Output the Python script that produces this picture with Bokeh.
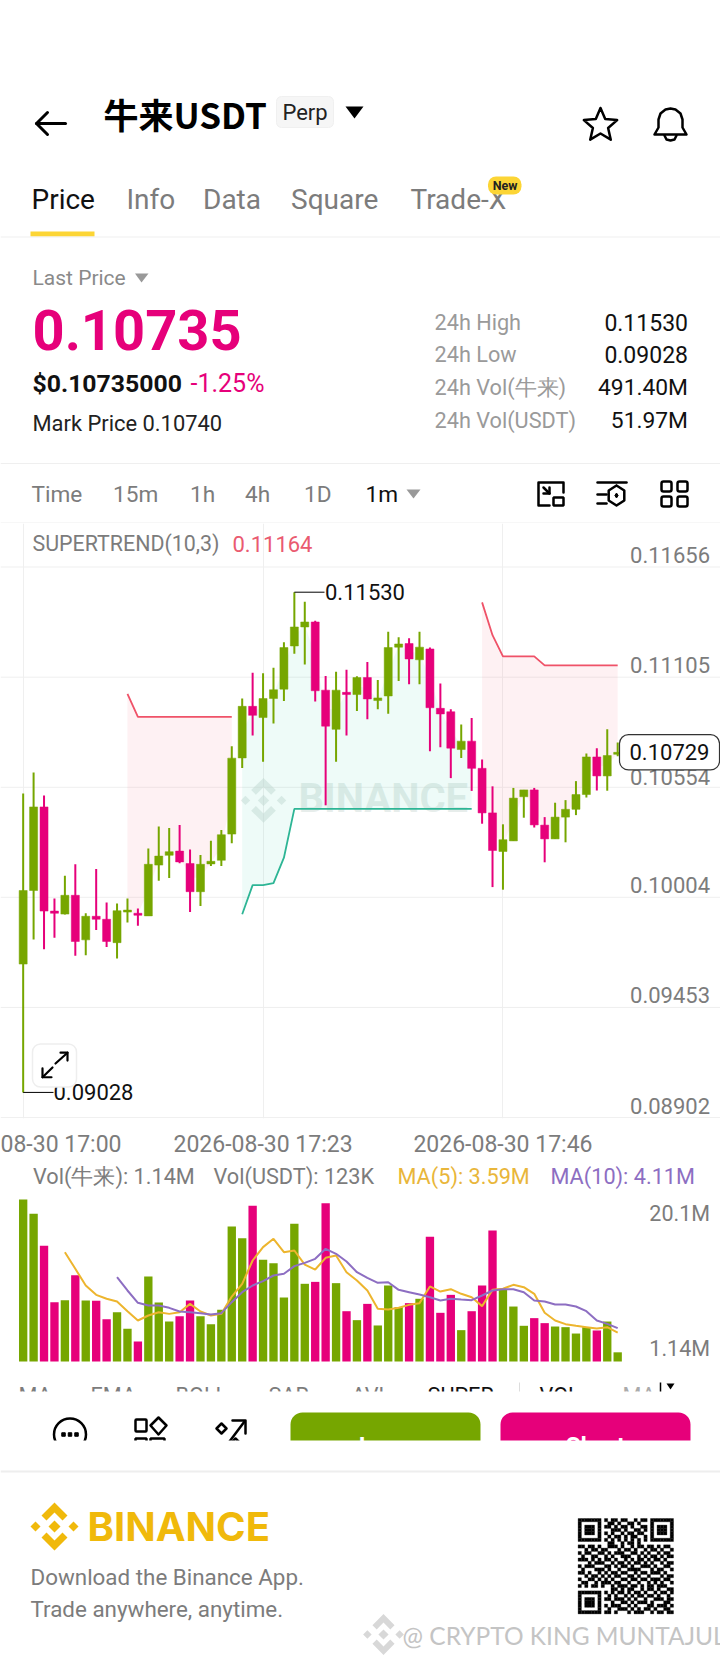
import numpy as np
from bokeh.plotting import figure
from bokeh.layouts import column
from bokeh.models import Range1d, FixedTicker, ColumnDataSource, AllLabels
from bokeh.core.properties import value
from bokeh.embed import file_html
from bokeh.resources import INLINE

# ---------- data (prices) ----------
open_ = [.09670,.10038,.10456,.09935,.09920,.10014,.09791,.09909,.09894,.09777,.09930,.09924,.09911,.10165,.10214,.10235,.10173,.10032,.10171,.10189,
         .10320,.10701,.10959,.10903,.10998,.11045,.11261,.11356,.11381,.11040,.10844,.11029,.11018,.11103,.10988,.11011,.11255,.11273,.11192,.11246,
         .10949,.10932,.10743,.10785,.10649,.10426,.10233,.10286,.10507,.10541,.10365,.10296,.10405,.10444,.10518,.10706,.10611,.10719]
high  = [.10523,.10628,.10513,.09998,.10112,.10169,.09924,.10145,.09978,.09973,.09998,.09948,.10248,.10358,.10351,.10366,.10243,.10215,.10287,.10341,
         .10759,.10998,.11127,.11124,.11152,.11279,.11530,.11482,.11387,.11111,.11132,.11142,.11109,.11181,.11091,.11332,.11304,.11299,.11332,.11253,
         .11073,.10945,.10868,.10901,.10693,.10559,.10369,.10551,.10541,.10551,.10405,.10477,.10490,.10585,.10723,.10749,.10844,.10778]
low   = [.09028,.09793,.09744,.09801,.09918,.09711,.09714,.09840,.09755,.09698,.09878,.09862,.09911,.10087,.10101,.10174,.09930,.09960,.10161,.10161,
         .10274,.10651,.10813,.10682,.10873,.10986,.11222,.11168,.10983,.10464,.10682,.10813,.10936,.10895,.10945,.10922,.11086,.11070,.11070,.10734,
         .10755,.10600,.10701,.10536,.10372,.10055,.10042,.10286,.10402,.10353,.10179,.10296,.10279,.10415,.10503,.10538,.10537,.10710]
close = [.10038,.10456,.09935,.09924,.10014,.09783,.09909,.09894,.09783,.09937,.09940,.09914,.10169,.10210,.10232,.10181,.10032,.10169,.10184,.10317,
         .10700,.10959,.10914,.10998,.11042,.11253,.11356,.11381,.11037,.10860,.11040,.11018,.11103,.10996,.11001,.11253,.11271,.11196,.11255,.10952,
         .10921,.10750,.10785,.10649,.10426,.10238,.10292,.10500,.10541,.10366,.10296,.10405,.10444,.10518,.10706,.10611,.10713,.10729]
st_red1_idx = list(range(10, 21))
st_red1 = [.11021] + [.10906] * 10
st_grn_idx = list(range(21, 44))
st_grn = [.09919,.10065,.10065,.10075,.10202] + [.10446] * 18
st_red2_idx = list(range(44, 58))
st_red2 = [.11479,.11315,.11209,.11209,.11209,.11209] + [.11164] * 8
volume = [20.10,18.32,14.35,7.36,7.61,10.71,7.57,7.53,5.25,6.12,4.05,2.48,10.55,7.32,4.96,5.62,7.57,5.62,4.63,6.41,
          16.75,15.30,19.31,12.61,12.20,7.94,17.08,9.64,9.88,19.64,9.72,6.24,5.13,7.15,4.47,9.43,6.74,7.24,7.78,15.47,
          6.04,8.27,3.89,6.24,9.43,16.25,8.93,6.82,4.43,5.38,4.76,4.34,4.26,3.47,4.26,3.85,4.96,1.14]
ma5_start = 4
ma5 = [13.56,11.50,9.43,8.27,7.78,7.44,6.24,5.09,5.71,6.12,5.91,6.12,7.15,6.20,5.71,5.91,8.06,9.64,12.53,14.19,15.22,13.56,13.77,12.03,11.41,12.86,13.15,
       11.08,10.05,8.81,6.53,6.45,6.66,7.03,7.24,9.31,8.68,8.97,8.40,7.98,6.87,8.89,9.02,9.51,9.22,8.40,6.04,5.09,4.63,4.43,4.26,4.09,4.26,3.59]
ma10_start = 9
ma10 = [10.46,8.81,7.28,6.95,6.95,6.66,6.20,6.12,6.00,5.83,6.00,7.36,8.60,9.43,9.97,10.67,10.88,11.83,12.24,12.74,13.98,13.36,12.41,11.08,10.38,9.76,9.84,
        8.89,8.60,8.31,7.98,7.57,7.78,7.69,7.61,8.19,8.81,8.97,8.97,8.60,7.57,7.44,7.07,7.07,6.82,6.24,5.09,4.67,4.14]
price_ticks = [.11656,.11105,.10554,.10004,.09453,.08902]
price_tick_labels = ["0.11656","0.11105","0.10554","0.10004","0.09453","0.08902"]
time_ticks = [0, 23, 46]
time_labels = ["08-30 17:00", "2026-08-30 17:23", "2026-08-30 17:46"]

GREEN, PINK = "#76A600", "#E6007A"
GRID = "#EFEFEF"
GRAY = "#7C7C7C"
F = "Roboto"

def bare(**kw):
    p = figure(output_backend="svg", toolbar_location=None, **kw)
    p.min_border_left = p.min_border_right = p.min_border_top = p.min_border_bottom = 0
    p.outline_line_color = None
    p.background_fill_color = "white"
    p.border_fill_color = "white"
    return p

def T(p, x, y, s, size, color, bold=False, align="left", font=F, alpha=1.0, yo=0):
    p.text(x=[x], y=[y], text=[s], text_font=value(font), text_font_size=f"{size}px", text_color=color,
           text_font_style="bold" if bold else "normal", text_align=align, text_baseline="middle",
           text_alpha=alpha, y_offset=yo)

def logo(p, cx, cy, s, color, alpha=1.0, fx=lambda v: v, fy=lambda v: v):
    shapes = [[(0,-24),(13,-11),(8,-6),(0,-14),(-8,-6),(-13,-11)],
              [(0,24),(13,11),(8,6),(0,14),(-8,6),(-13,11)],
              [(0,-6),(6,0),(0,6),(-6,0)],
              [(-19,-5),(-14,0),(-19,5),(-24,0)],
              [(19,-5),(24,0),(19,5),(14,0)]]
    xs = [[fx(cx + a * s) for a, b in sh] for sh in shapes]
    ys = [[fy(cy + b * s) for a, b in sh] for sh in shapes]
    p.patches(xs, ys, fill_color=color, fill_alpha=alpha, line_color=None)

def L(p, pts, color="black", w=2.5):
    p.line([a for a, b in pts], [b for a, b in pts], line_color=color, line_width=w,
           line_cap="round", line_join="round")

# ---------- header ----------
h = bare(width=720, height=523, x_range=Range1d(0, 720), y_range=Range1d(523, 0), x_axis_type=None, y_axis_type=None)
h.grid.visible = False
L(h, [(47,112),(36,123),(47,134)], w=3); L(h, [(36,123),(65,123)], w=3)
T(h, 103, 113, "牛来USDT", 35, "black", bold=True, font="Noto Sans CJK SC")
h.quad(left=[276], right=[333], top=[96], bottom=[127], fill_color="#F6F6F6", line_color="#F0F0F0", border_radius=5)
T(h, 304.5, 112, "Perp", 22, "#222222", align="center")
h.patch([345,363,354], [106,106,118], fill_color="black", line_color=None)
ang = np.arange(11) * np.pi / 5 - np.pi / 2
rad = np.where(np.arange(11) % 2 == 0, 17.5, 8)
L(h, list(zip(600 + rad * np.cos(ang), 125 + rad * np.sin(ang))))
L(h, [(654,134),(658,127),(658,119),(660,113),(665,109),(670,108),(675,109),(680,113),(682,119),(682,127),(686,134),(654,134)])
L(h, [(664,135),(666,139),(670,140),(674,139),(676,135)])
T(h, 31, 199, "Price", 28, "#111111")
for x, s in [(126,"Info"),(202.5,"Data"),(290.5,"Square"),(410,"Trade-X")]:
    T(h, x, 199, s, 28, GRAY)
h.quad(left=[30], right=[94], top=[231], bottom=[236], fill_color="#FCD535", line_color=None)
h.quad(left=[487.5], right=[521], top=[176], bottom=[194], fill_color="#FCD535", line_color=None, border_radius=8)
T(h, 504.5, 185, "New", 12.5, "#222222", bold=True, align="center")
h.segment([0],[236.5],[720],[236.5], line_color=GRID, line_width=1)
T(h, 32, 277, "Last Price", 21, "#8A8A8A")
h.patch([134.5,148,141], [273,273,282], fill_color="#999999", line_color=None)
T(h, 32, 329, "0.10735", 56, PINK, bold=True)
T(h, 32, 383, "$0.10735000", 24.8, "#111111", bold=True)
T(h, 190, 383, "-1.25%", 25, PINK)
T(h, 32, 423, "Mark Price 0.10740", 21.9, "#222222")
for y, a, b, s in [(322,"24h High","0.11530",23),(354,"24h Low","0.09028",23),(387,"24h Vol(牛来)","491.40M",22.8),(420,"24h Vol(USDT)","51.97M",22.8)]:
    T(h, 434, y, a, 21.7, "#9A9A9A")
    T(h, 687.5, y, b, s, "#111111", align="right")
h.segment([0],[463],[720],[463], line_color=GRID, line_width=1)
for x, s in [(31,"Time"),(112.5,"15m"),(189.5,"1h"),(244.5,"4h"),(303.5,"1D")]:
    T(h, x, 494, s, 22.6, GRAY)
T(h, 365, 494, "1m", 22.6, "#111111")
h.patch([406,420,413], [489,489,498], fill_color="#999999", line_color=None)
L(h, [(563,492),(563,482),(538,482),(538,505),(549,505)])
h.quad(left=[553], right=[563], top=[497], bottom=[505], fill_color=None, line_color="black", line_width=2.5)
L(h, [(543,487),(549,493)]); L(h, [(549,487),(549,493),(543,493)])
L(h, [(597,482),(626,482)]); L(h, [(597,494),(606,494)]); L(h, [(597,503),(606,503)])
hexa = np.arange(7) * np.pi / 3 - np.pi / 2
L(h, list(zip(616 + 9 * np.cos(hexa), 495 + 10 * np.sin(hexa))))
h.scatter([616], [495], size=5, marker="diamond", fill_color="black", line_color="black")
h.quad(left=[661,677,661,677], right=[671,687,671,687], top=[481,481,496,496], bottom=[491,491,506,506],
       fill_color=None, line_color="black", line_width=2.5, border_radius=2)
h.segment([0],[522.5],[720],[522.5], line_color=GRID, line_width=1)

# ---------- price panel ----------
X = lambda px: (px - 22.67) / 10.43
Y = lambda py: 0.11656 - (py - 567.3) / 20363
n = len(open_)
idx = np.arange(n)
op, hi, lo, cl = map(np.array, (open_, high, low, close))
col = [GREEN if c >= o else PINK for o, c in zip(op, cl)]
mid = (op + cl) / 2
src = ColumnDataSource(dict(x=idx, o=op, h=hi, l=lo, c=cl, top=np.maximum(op, cl), bot=np.minimum(op, cl), col=col))

p = bare(width=720, height=637, x_range=Range1d(X(0), X(720)), y_range=Range1d(Y(1129), Y(523)), y_axis_type=None)
p.min_border_bottom = 31
p.xgrid.ticker = FixedTicker(ticks=time_ticks)
p.xgrid.grid_line_color = GRID
p.ygrid.grid_line_color = None
p.xaxis.ticker = FixedTicker(ticks=time_ticks)
p.xaxis.major_label_overrides = dict(zip(time_ticks, time_labels))
p.xaxis.major_label_policy = AllLabels()
p.xaxis.major_label_text_font = F
p.xaxis.major_label_text_font_size = "23px"
p.xaxis.major_label_text_color = GRAY
p.xaxis.major_label_standoff = 6
p.xaxis.axis_line_color = None
p.xaxis.major_tick_line_color = None
p.xaxis.minor_tick_line_color = None
p.segment(X(0), price_ticks, X(720), price_ticks, line_color=GRID, line_width=1)

logo(p, 263, 805, 0.95, "#C9D8D3", 0.45, X, Y)
T(p, X(298), Y(803), "BINANCE", 40, "#C9D8D3", bold=True, alpha=0.45)

p.varea(st_red1_idx, st_red1, mid[st_red1_idx], fill_color="#F6465D", fill_alpha=0.075)
p.varea(st_grn_idx, st_grn, mid[st_grn_idx], fill_color="#0ECB9A", fill_alpha=0.07)
p.varea(st_red2_idx, st_red2, mid[st_red2_idx], fill_color="#F6465D", fill_alpha=0.075)

for lbl, val, yo in zip(price_tick_labels, price_ticks, [-12, -12, -10, -12, -12, -12]):
    T(p, X(709.5), val, lbl, 22, GRAY, align="right", yo=yo)

p.line(st_red1_idx, st_red1, line_color="#EF5268", line_width=1.8)
p.line(st_grn_idx, st_grn, line_color="#2DB595", line_width=1.8)
p.line(st_red2_idx, st_red2, line_color="#EF5268", line_width=1.8)

p.segment("x", "h", "x", "l", source=src, line_color="col", line_width=2)
p.vbar("x", width=0.77, top="top", bottom="bot", source=src, fill_color="col", line_color="col", line_width=0.5)

p.segment([26], [high[26]], [X(324)], [high[26]], line_color="black", line_width=1)
T(p, X(324.5), high[26], "0.11530", 22, "#111111")
p.segment([0], [low[0]], [X(53)], [low[0]], line_color="black", line_width=1)
T(p, X(53), low[0], "0.09028", 22, "#111111")

T(p, X(32), Y(543.5), "SUPERTREND(10,3)", 21.4, GRAY)
T(p, X(232), Y(543.5), "0.11164", 22, "#EA5A70")

p.quad(left=[X(619)], right=[X(719)], top=[Y(738)], bottom=[Y(774)], fill_color="white", line_color="#333333",
       line_width=1.2, border_radius=9)
T(p, X(629), close[-1], "0.10729", 22, "#111111")

p.quad(left=[X(32)], right=[X(76)], top=[Y(1053)], bottom=[Y(1097)], fill_color="white", line_color="#EEEEEE",
       line_width=1.5, border_radius=8)
for pts in ([(55,1073),(67,1062)], [(60,1062),(67,1062),(67,1070)], [(52,1077),(42,1087)], [(42,1078),(42,1087),(51,1087)]):
    L(p, [(X(a), Y(b)) for a, b in pts], w=2.2)

# ---------- volume panel ----------
V = lambda py: (1361 - py) / 8.06
v = bare(width=720, height=202, x_range=Range1d(X(0), X(720)), y_range=Range1d(V(1362), V(1160)), x_axis_type=None, y_axis_type=None)
v.xgrid.ticker = FixedTicker(ticks=time_ticks)
v.xgrid.grid_line_color = GRID
v.ygrid.ticker = FixedTicker(ticks=[0, V(1160.5)])
v.ygrid.grid_line_color = GRID
v.vbar(idx, width=0.8, top=volume, bottom=0, fill_color=col, line_color=None)
v.line(np.arange(ma5_start, ma5_start + len(ma5)), ma5, line_color="#EDB52E", line_width=2)
v.line(np.arange(ma10_start, ma10_start + len(ma10)), ma10, line_color="#8D6EC2", line_width=2)
T(v, X(32.5), V(1176), "Vol(牛来): 1.14M", 21.7, GRAY)
T(v, X(213), V(1176), "Vol(USDT): 123K", 21.7, GRAY)
T(v, X(397), V(1176), "MA(5): 3.59M", 21.7, "#E9B63A")
T(v, X(550), V(1176), "MA(10): 4.11M", 21.7, "#8D6EC2")
T(v, X(709.5), V(1213), "20.1M", 21.5, GRAY, align="right")
T(v, X(709.5), V(1347.5), "1.14M", 21.5, GRAY, align="right")

# ---------- footer ----------
f = bare(width=720, height=298, x_range=Range1d(0, 720), y_range=Range1d(1660, 1362), x_axis_type=None, y_axis_type=None)
f.grid.visible = False
for x, s, c in [(18,"MA",GRAY),(90,"EMA",GRAY),(175,"BOLL",GRAY),(268,"SAR",GRAY),(351,"AVL",GRAY),(427,"SUPER","#111111"),
                (539,"VOL","#111111"),(622,"MA","#AAAAAA")]:
    T(f, x, 1394.7, s, 21.7, c)
f.segment([519],[1382],[519],[1392], line_color="#DDDDDD", line_width=1)
f.segment([660],[1382],[660],[1392], line_color="black", line_width=1.5)
f.patch([666,674,670],[1383,1383,1389], fill_color="black", line_color=None)
f.quad(left=[0], right=[720], top=[1391], bottom=[1412], fill_color="white", line_color=None)
f.circle([69.5],[1434], radius=16, fill_color=None, line_color="black", line_width=2.5)
f.scatter([63,69.5,76],[1434,1434,1434], size=3.5, marker="square", fill_color="black", line_color="black")
f.quad(left=[135], right=[146], top=[1419], bottom=[1431], fill_color=None, line_color="black", line_width=2.5, border_radius=1)
L(f, [(158,1417),(166,1425),(158,1434),(150,1425),(158,1417)])
f.quad(left=[135,150], right=[146,164], top=[1438,1438], bottom=[1450,1450], fill_color=None, line_color="black", line_width=2.5)
L(f, [(221,1423),(226,1428),(221,1433),(216,1428),(221,1423)])
L(f, [(226,1445),(244,1421)]); L(f, [(232,1420),(245,1420),(245,1433)])
L(f, [(235,1438),(240,1443),(235,1448),(230,1443),(235,1438)])
f.quad(left=[290], right=[480], top=[1412], bottom=[1460], fill_color=GREEN, line_color=None, border_radius=12)
f.quad(left=[500], right=[690], top=[1412], bottom=[1460], fill_color=PINK, line_color=None, border_radius=12)
T(f, 385, 1445, "Long", 24, "white", bold=True, align="center")
T(f, 595, 1445, "Short", 24, "white", bold=True, align="center")
f.quad(left=[0], right=[720], top=[1440], bottom=[1470], fill_color="white", line_color=None)
f.segment([0],[1471],[720],[1471], line_color="#EEEEEE", line_width=2)
logo(f, 54, 1526, 1.0, "#F0B90B")
T(f, 87, 1526, "BINANCE", 40, "#F0B90B", bold=True, font="Inter")
T(f, 30, 1576, "Download the Binance App.", 22.4, GRAY)
T(f, 30, 1608, "Trade anywhere, anytime.", 22.4, GRAY)

FP = ["1111111","1000001","1011101","1011101","1011101","1000001","1111111"]
TOP = ["1011011001011","0110100110100","1101011010011","0011101001101","1010010110110","0101101011001","1010101010101","0110010110100"]
MID = ["11011010011101001011011010110","00101101100010110100101101001","10110011010111001101010010110",
       "01001100101001110010101101011","11101010110100101011010110100","00010111001011010110101001011",
       "10111000110101101001110100110","01000111010010011110001011001","11010010101101100101101110100",
       "00101101010110011010010001011","10011010101001101101101110110","01100101110110010010010101001",
       "10101101001011101101011011100"]
BOT = ["001101011001011010011","101011010110100101101","010100101011011010010","110111010100100111011",
       "001001101011101000110","101110010100011011101","010011101010110100110","110100010111001011011"]
rows = [FP[i] + "0" + TOP[i] + "0" + FP[i] for i in range(7)]
rows.append("00000000" + TOP[7] + "00000000")
rows += MID
rows.append("00000000" + BOT[0])
rows += [FP[i] + "0" + BOT[i + 1] for i in range(7)]
m = 95.4 / 29
lf, tp = [], []
for r, row in enumerate(rows):
    for c, ch in enumerate(row):
        if ch == "1":
            lf.append(577.6 + c * m); tp.append(1518 + r * m)
lf = np.array(lf); tp = np.array(tp)
f.quad(left=lf, right=lf + m, top=tp, bottom=tp + m, fill_color="black", line_color="black", line_width=0.3)

logo(f, 383, 1634, 0.85, "#D8D8D8")
T(f, 402, 1635, "@ CRYPTO KING MUNTAJUL", 24.5, "#C4C4C4", font="Lato")

page = column(h, p, v, f, spacing=0)
open("out.html", "w").write(file_html(page, INLINE))
